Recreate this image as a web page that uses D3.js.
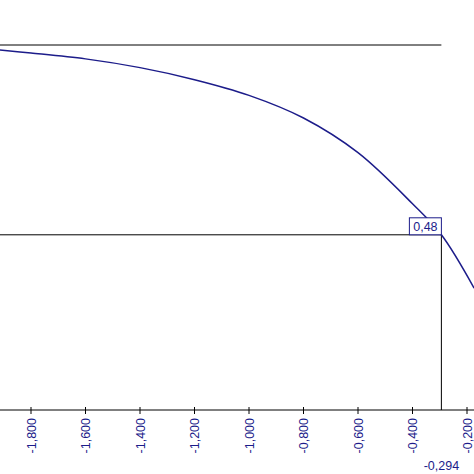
<!DOCTYPE html><html><head><meta charset="utf-8"><script src="https://cdn.jsdelivr.net/npm/d3@7"></script>
<style>body{margin:0;background:#fff}</style></head><body><svg id="c" width="474" height="474"></svg>
<script>
const xs=[-1.914,-1.8,-1.6,-1.4,-1.2,-1.0,-0.8,-0.6,-0.4,-0.294,-0.174];
const ys=[0.986,0.978,0.962,0.938,0.905,0.862,0.800,0.705,0.565,0.48,0.334];
const ticks=[-1.8,-1.6,-1.4,-1.2,-1.0,-0.8,-0.6,-0.4,-0.2];
const markX=-0.294, markY=0.48, topY=1.0;
const svg=d3.select("#c");
const x=d3.scaleLinear().domain([-1.8,-0.2]).range([31,467]);
const y=d3.scaleLinear().domain([0,1]).range([410,45]);
const fmt=v=>d3.format(".3f")(v).replace(".",",").replace("−","-");
const navy="#1c1c8a";
svg.append("line").attr("x1",0).attr("x2",x(markX)).attr("y1",y(topY)).attr("y2",y(topY)).attr("stroke","#000");
svg.append("line").attr("x1",0).attr("x2",x(markX)).attr("y1",y(markY)).attr("y2",y(markY)).attr("stroke","#000");
svg.append("line").attr("x1",x(markX)).attr("x2",x(markX)).attr("y1",y(markY)).attr("y2",y(0)).attr("stroke","#000");
const ax=svg.append("g").attr("transform","translate(0,410)");
ax.append("line").attr("x1",0).attr("x2",474).attr("stroke","#000");
ticks.forEach(t=>{
 ax.append("line").attr("x1",x(t)).attr("x2",x(t)).attr("y1",-3).attr("y2",4).attr("stroke","#000");
 ax.append("text").attr("transform",`translate(${x(t)+4.5},8) rotate(-90)`).attr("text-anchor","end")
  .attr("font-family","Liberation Sans, Arial").attr("font-size",12.5).attr("fill",navy).text(fmt(t));
});
svg.append("text").attr("x",x(markX)).attr("y",470).attr("text-anchor","middle").attr("font-family","Liberation Sans, Arial").attr("font-size",12.5).attr("fill",navy).text(fmt(markX));
svg.append("path").datum(xs.map((v,i)=>[v,ys[i]])).attr("d",d3.line().x(d=>x(d[0])).y(d=>y(d[1])).curve(d3.curveCatmullRom))
 .attr("fill","none").attr("stroke",navy).attr("stroke-width",1.5);
const bx=x(markX);
svg.append("rect").attr("x",bx-32).attr("y",y(markY)-17).attr("width",32).attr("height",17).attr("fill","#fff").attr("stroke",navy);
svg.append("text").attr("x",bx-16).attr("y",y(markY)-4).attr("text-anchor","middle").attr("font-family","Liberation Sans, Arial").attr("font-size",12.5).attr("fill",navy).text(fmt(markY).replace(/0$/,""));
</script></body></html>
